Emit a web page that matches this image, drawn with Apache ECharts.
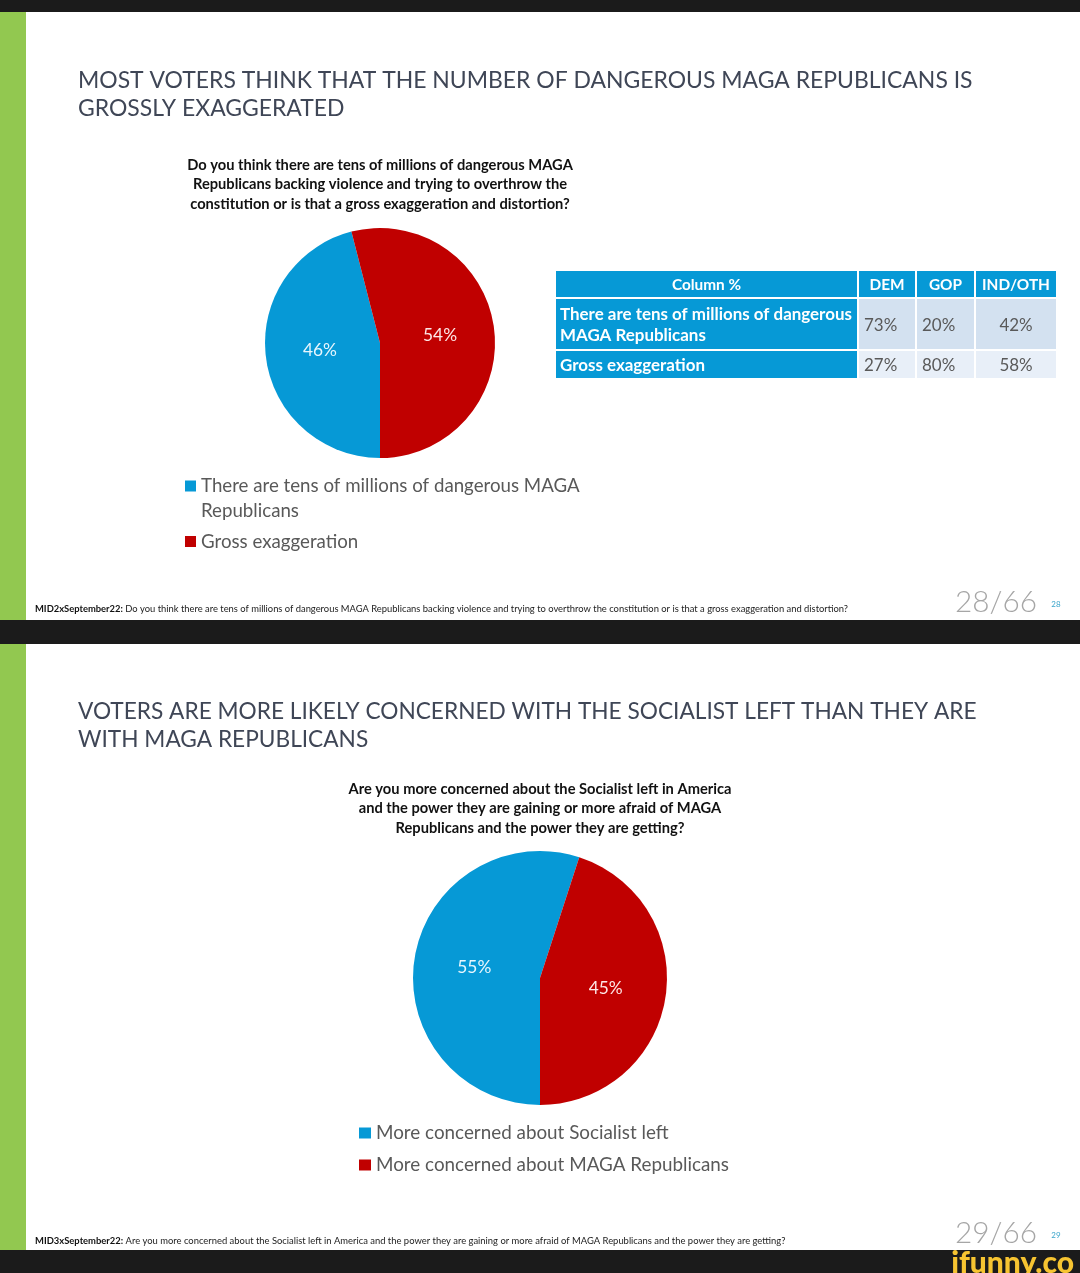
<!DOCTYPE html>
<html><head><meta charset="utf-8">
<script src="https://cdn.jsdelivr.net/npm/echarts@6/dist/echarts.min.js"></script>
<style>html,body{margin:0;padding:0;background:#fff}#c{width:1080px;height:1273px}</style>
</head><body><div id="c"></div>
<script>
// ---------- data ----------
const title1 = ['MOST VOTERS THINK THAT THE NUMBER OF DANGEROUS MAGA REPUBLICANS IS', 'GROSSLY EXAGGERATED'];
const question1 = ['Do you think there are tens of millions of dangerous MAGA', 'Republicans backing violence and trying to overthrow the', 'constitution or is that a gross exaggeration and distortion?'];
const pie1Names = ['There are tens of millions of dangerous MAGA\nRepublicans', 'Gross exaggeration'];
const pie1Values = [46, 54];
const tableHeader = ['Column %', 'DEM', 'GOP', 'IND/OTH'];
const tableRows = ['There are tens of millions of dangerous\nMAGA Republicans', 'Gross exaggeration'];
const demValues = [73, 27];
const gopValues = [20, 80];
const indValues = [42, 58];
const footnote1Id = 'MID2xSeptember22:';
const footnote1 = ' Do you think there are tens of millions of dangerous MAGA Republicans backing violence and trying to overthrow the constitution or is that a gross exaggeration and distortion?';
const page1 = ['28/66', '28'];

const title2 = ['VOTERS ARE MORE LIKELY CONCERNED WITH THE SOCIALIST LEFT THAN THEY ARE', 'WITH MAGA REPUBLICANS'];
const question2 = ['Are you more concerned about the Socialist left in America', 'and the power they are gaining or more afraid of MAGA', 'Republicans and the power they are getting?'];
const pie2Names = ['More concerned about Socialist left', 'More concerned about MAGA Republicans'];
const pie2Values = [55, 45];
const footnote2Id = 'MID3xSeptember22:';
const footnote2 = ' Are you more concerned about the Socialist left in America and the power they are gaining or more afraid of MAGA Republicans and the power they are getting?';
const page2 = ['29/66', '29'];
const watermark = 'ifunny.co';

// ---------- style ----------
const FONT = 'Lato, "Open Sans", sans-serif';
const BLUE = '#0699d6', RED = '#c00000';
const sliceColors = [BLUE, RED];
const labelColors = ['#e8f6fd', '#fde6e6'];
const ctx = document.createElement('canvas').getContext('2d');
function fit(text, weight, target) {
  ctx.font = weight + ' 100px ' + FONT;
  return 100 * target / ctx.measureText(text).width;
}
const titleSize1 = fit(title1[0], 'normal', 895);
const titleSize2 = fit(title2[0], 'normal', 899);
const qSize = fit(question1[0], 'bold', 386);
const legendSize1 = fit('There are tens of millions of dangerous MAGA', 'normal', 379);
const legendSize2 = fit(pie2Names[0], 'normal', 293);
const tblBold = fit('There are tens of millions of dangerous', 'bold', 292);
const hdrSize = fit('IND/OTH', 'bold', 68);
const pctSize = fit('54%', 'normal', 34);
const pageSize = fit('28/66', '300', 82);
function footSize(id, rest, target) {
  ctx.font = 'bold 100px ' + FONT; const a = ctx.measureText(id).width;
  ctx.font = 'normal 100px ' + FONT; const b = ctx.measureText(rest).width;
  return 100 * target / (a + b);
}
const foot1Size = footSize(footnote1Id, footnote1, 815);
const foot2Size = footSize(footnote2Id, footnote2, 751);

const graphics = [];
function rect(x, y, w, h, fill) { graphics.push({type: 'rect', silent: true, shape: {x, y, width: w, height: h}, style: {fill}}); }
function text(t, x, y, size, opts) {
  opts = opts || {};
  graphics.push({type: 'text', silent: true, x, y, z: 10, style: Object.assign({
    text: t, fill: opts.fill || '#333', fontSize: size, fontFamily: FONT,
    fontWeight: opts.weight || 'normal', align: opts.align || 'left', verticalAlign: opts.va || 'middle'
  }, opts.extra || {})});
}
// backgrounds
rect(0, 0, 1080, 12, '#1b1b1b');
rect(0, 620, 1080, 24, '#1b1b1b');
rect(0, 1250, 1080, 23, '#1b1b1b');
rect(0, 12, 26, 608, '#92c850');
rect(0, 644, 26, 606, '#92c850');

// slide 1
text(title1[0], 78, 81, titleSize1, {fill: '#3f4656'});
text(title1[1], 78, 109, titleSize1, {fill: '#3f4656'});
question1.forEach((l, i) => text(l, 380, 165 + i * 19.5, qSize, {weight: 'bold', align: 'center', fill: '#111'}));

// table
const colX = [556, 859, 917, 976], colW = [301, 56, 57, 80];
const rowY = [271, 299, 351], rowH = [26, 50, 27];
const valueBg = ['#d3e1f0', '#e8eff8'];
tableHeader.forEach((h, c) => {
  rect(colX[c], rowY[0], colW[c], rowH[0], BLUE);
  text(h, colX[c] + colW[c] / 2, rowY[0] + rowH[0] / 2 + 1, hdrSize, {weight: 'bold', align: 'center', fill: '#fff'});
});
const cols = [demValues, gopValues, indValues];
const valAlign = ['left', 'left', 'center'];
tableRows.forEach((r, i) => {
  const y = rowY[i + 1], h = rowH[i + 1];
  rect(colX[0], y, colW[0], h, BLUE);
  text(r, colX[0] + 4, y + h / 2 + 1, tblBold, {weight: 'bold', fill: '#fff', extra: {lineHeight: 21}});
  cols.forEach((vals, c) => {
    rect(colX[c + 1], y, colW[c + 1], h, valueBg[i]);
    const x = valAlign[c] === 'left' ? colX[c + 1] + 5 : colX[c + 1] + colW[c + 1] / 2;
    text(vals[i] + '%', x, y + h / 2 + 1.5, tblBold, {align: valAlign[c], fill: '#595959'});
  });
});
text('{b|' + footnote1Id + '}' + footnote1, 35, 609, foot1Size, {fill: '#222', extra: {rich: {b: {fontWeight: 'bold', fontSize: foot1Size, fontFamily: FONT, fill: '#111'}}}});
text(page1[0], 1037, 602, pageSize, {align: 'right', weight: 300, fill: '#a6a6a6'});
text(page1[1], 1056, 604, 8, {align: 'center', fill: '#3aa5cb'});

// slide 2
text(title2[0], 78, 712, titleSize2, {fill: '#3f4656'});
text(title2[1], 78, 740, titleSize2, {fill: '#3f4656'});
question2.forEach((l, i) => text(l, 540, 789 + i * 19.5, qSize, {weight: 'bold', align: 'center', fill: '#111'}));
text('{b|' + footnote2Id + '}' + footnote2, 35, 1241, foot2Size, {fill: '#222', extra: {rich: {b: {fontWeight: 'bold', fontSize: foot2Size, fontFamily: FONT, fill: '#111'}}}});
text(page2[0], 1037, 1233, pageSize, {align: 'right', weight: 300, fill: '#a6a6a6'});
text(page2[1], 1056, 1235, 8, {align: 'center', fill: '#3aa5cb'});
text(watermark, 1074, 1248, 30, {align: 'right', va: 'top', weight: 900, fill: '#f6c431'});

function pieSeries(names, values, center, radius) {
  return {
    type: 'pie', center, radius, startAngle: 270, clockwise: true,
    silent: true, animation: false, emphasis: {disabled: true},
    label: {position: 'inside', formatter: '{c}%', fontSize: pctSize, fontFamily: FONT},
    labelLine: {show: false},
    data: names.map((n, i) => ({name: n, value: values[i], itemStyle: {color: sliceColors[i]}, label: {color: labelColors[i]}}))
  };
}

const chart = echarts.init(document.getElementById('c'), null, {renderer: 'canvas'});
chart.setOption({
  animation: false,
  graphic: graphics,
  legend: [
    {
      orient: 'vertical', left: 185, top: 473.5, padding: 0, itemGap: 0, selectedMode: false,
      itemWidth: 11, itemHeight: 36,
      textStyle: {fontSize: legendSize1, fontFamily: FONT, color: '#595959', lineHeight: 25},
      data: [
        {name: pie1Names[0], icon: 'path://M0,0H11V11H0Z M0,36'},
        {name: pie1Names[1], icon: 'path://M0,0 M0,12.5H11V23.5H0Z M0,36'}
      ]
    },
    {
      orient: 'vertical', left: 359, top: 1122, padding: 0, itemGap: 10, selectedMode: false,
      itemWidth: 12, itemHeight: 11, icon: 'rect',
      textStyle: {fontSize: legendSize2, fontFamily: FONT, color: '#595959', lineHeight: 22},
      data: pie2Names
    }
  ],
  series: [
    pieSeries(pie1Names, pie1Values, [380, 343], 115),
    pieSeries(pie2Names, pie2Values, [540, 978], 127)
  ]
});
</script></body></html>
